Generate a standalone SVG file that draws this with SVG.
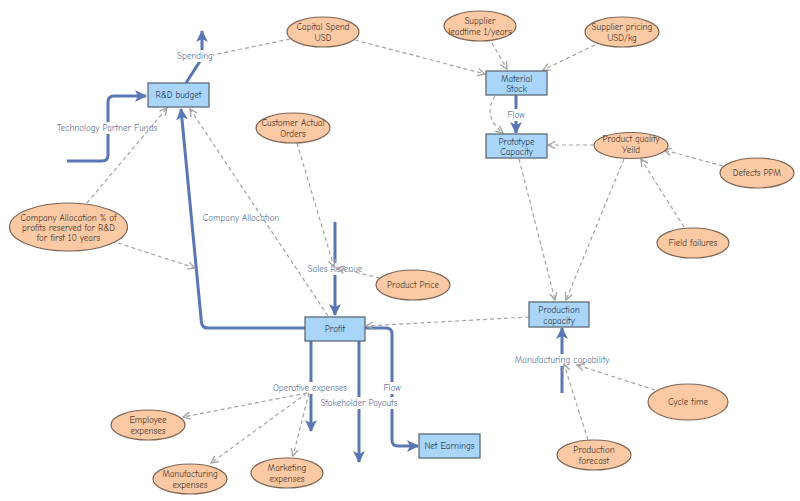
<svg xmlns="http://www.w3.org/2000/svg" width="800" height="501" viewBox="0 0 800 501">
<defs>
<style>
text{font-family:"Comic Sans MS","Comic Neue","Liberation Sans",sans-serif;font-size:9px;text-anchor:middle;dominant-baseline:central}
.box{fill:#a9d5f8;stroke:#5f6b78;stroke-width:1.3}
.ell{fill:#fbc9a4;stroke:#7d6453;stroke-width:1.2}
.bt{fill:#2c3e55}
.et{fill:#4a3a30}
.fl{fill:none;stroke:#5a77b4;stroke-width:3;marker-end:url(#fa)}
.lb{fill:#6677a0}
.bg{fill:#ffffff}
.d{fill:none;stroke:#a3a3a3;stroke-width:1.2;stroke-dasharray:4,3}
.da{marker-end:url(#da)}
</style>
<marker id="fa" viewBox="0 0 12 12" refX="11" refY="6" markerWidth="12" markerHeight="12" markerUnits="userSpaceOnUse" orient="auto">
<path d="M0,0 L12,6 L0,12 L3,6 z" fill="#5a77b4"/>
</marker>
<marker id="da" viewBox="0 0 10 10" refX="9" refY="5" markerWidth="9" markerHeight="9" markerUnits="userSpaceOnUse" orient="auto">
<path d="M1,1 L9,5 L1,9" fill="none" stroke="#a3a3a3" stroke-width="1.5"/>
</marker>
</defs>
<rect width="800" height="501" fill="#ffffff"/>

<g id="connectors">
<path class="fl" d="M186,83 L202,58 L202,31"/>
<path class="fl" d="M67,161 L102,161 Q108,161 108,155 L108,102 Q108,96 114,96 L146,96"/>
<path class="fl" d="M305,328 L208,328 Q202,328 201.4,322 L181,109"/>
<path class="fl" d="M335,222 L335,315"/>
<path class="fl" d="M516,95 L516,133"/>
<path class="fl" d="M311,341 L311,431"/>
<path class="fl" d="M359,341 L359,462"/>
<path class="fl" d="M365,328 L386,328 Q392,328 392,334 L392,440 Q392,446 398,446 L418,446"/>
<path class="fl" d="M562,393 L562,328"/>

<rect class="bg" x="176" y="50" width="37" height="12"/>
<text class="lb" x="195" y="56">Spending</text>
<rect class="bg" x="56" y="122" width="102" height="12"/>
<text class="lb" x="107" y="128">Technology Partner Funds</text>
<text class="lb" x="241" y="218">Company Allocation</text>
<rect class="bg" x="306" y="263" width="58" height="12"/>
<text class="lb" x="335" y="269">Sales Revenue</text>
<rect class="bg" x="505" y="109" width="22" height="12"/>
<text class="lb" x="516" y="115">Flow</text>
<rect class="bg" x="270" y="382" width="81" height="12"/>
<text class="lb" x="310" y="388">Operative expenses</text>
<rect class="bg" x="318" y="397" width="82" height="12"/>
<text class="lb" x="359" y="403">Stakeholder Payouts</text>
<rect class="bg" x="381" y="382" width="22" height="12"/>
<text class="lb" x="392" y="388">Flow</text>
<rect class="bg" x="513" y="354" width="98" height="12"/>
<text class="lb" x="562" y="360">Manufacturing capability</text>

<path class="d" d="M290,39 L213,55"/>
<path class="d da" d="M355,40 L485,74"/>
<path class="d da" d="M492,43 L507,69"/>
<path class="d da" d="M595,45 L543,70"/>
<path class="d da" d="M495,96 Q482,116 503,133"/>
<path class="d da" d="M594,145 L548,145"/>
<path class="d da" d="M723,166 L664,150"/>
<path class="d da" d="M684,227 L641,159"/>
<path class="d da" d="M624,159 L566,300"/>
<path class="d da" d="M519,159 L555,300"/>
<path class="d da" d="M529,317 L366,326"/>
<path class="d da" d="M297,143 L334,267"/>
<path class="d da" d="M380,278 L337,268"/>
<path class="d da" d="M328,316 L190,109"/>
<path class="d da" d="M87,203 L167,108"/>
<path class="d da" d="M118,243 L195,268"/>
<path class="d da" d="M307,393 L183,417"/>
<path class="d da" d="M307,393 L211,463"/>
<path class="d da" d="M309,393 L293,456"/>
<path class="d da" d="M588,440 L564,364"/>
<path class="d da" d="M655,390 L577,365"/>
</g>

<g id="rd-budget"><rect class="box" x="148" y="83" width="61" height="24"/><text class="bt" x="178.5" y="95">R&amp;D budget</text></g>
<g id="material-stock"><rect class="box" x="486" y="71" width="61" height="24"/><text class="bt" x="516.5" y="79">Material</text><text class="bt" x="516.5" y="89">Stock</text></g>
<g id="prototype-capacity"><rect class="box" x="486" y="134" width="61" height="24"/><text class="bt" x="516.5" y="142">Prototype</text><text class="bt" x="516.5" y="152">Capacity</text></g>
<g id="production-capacity"><rect class="box" x="529" y="302" width="60" height="25"/><text class="bt" x="559" y="310">Production</text><text class="bt" x="559" y="320.5">capacity</text></g>
<g id="profit"><rect class="box" x="305" y="317" width="60" height="24"/><text class="bt" x="335" y="329">Profit</text></g>
<g id="net-earnings"><rect class="box" x="419" y="434" width="61" height="24"/><text class="bt" x="449.5" y="446">Net Earnings</text></g>

<g id="capital-spend"><ellipse class="ell" cx="323" cy="32" rx="36" ry="15"/><text class="et" x="323" y="27">Capital Spend</text><text class="et" x="323" y="37.5">USD</text></g>
<g id="supplier-leadtime"><ellipse class="ell" cx="480" cy="26" rx="36" ry="15"/><text class="et" x="480" y="21">Supplier</text><text class="et" x="480" y="31.5">leadtime 1/years</text></g>
<g id="supplier-pricing"><ellipse class="ell" cx="622" cy="32" rx="37" ry="15"/><text class="et" x="622" y="27">Supplier pricing</text><text class="et" x="622" y="37.5">USD/kg</text></g>
<g id="product-quality"><ellipse class="ell" cx="631" cy="145.5" rx="37" ry="13"/><text class="et" x="631" y="139">Product quality</text><text class="et" x="631" y="150">Yeild</text></g>
<g id="defects-ppm"><ellipse class="ell" cx="757" cy="173" rx="37" ry="15"/><text class="et" x="757" y="173">Defects PPM</text></g>
<g id="field-failures"><ellipse class="ell" cx="693" cy="243" rx="36" ry="15"/><text class="et" x="693" y="243">Field failures</text></g>
<g id="customer-orders"><ellipse class="ell" cx="293" cy="128" rx="37" ry="15"/><text class="et" x="293" y="123">Customer Actual</text><text class="et" x="293" y="134">Orders</text></g>
<g id="product-price"><ellipse class="ell" cx="413" cy="285" rx="37" ry="15"/><text class="et" x="413" y="285">Product Price</text></g>
<g id="company-allocation-pct"><ellipse class="ell" cx="68.5" cy="227" rx="59" ry="24"/><text class="et" x="68.5" y="218">Company Allocation % of</text><text class="et" x="68.5" y="228">profits reserved for R&amp;D</text><text class="et" x="68.5" y="238">for first 10 years</text></g>
<g id="employee-expenses"><ellipse class="ell" cx="148" cy="425" rx="37" ry="15"/><text class="et" x="148" y="420">Employee</text><text class="et" x="148" y="431">expenses</text></g>
<g id="manufacturing-expenses"><ellipse class="ell" cx="190" cy="479" rx="37" ry="15"/><text class="et" x="190" y="474">Manufacturing</text><text class="et" x="190" y="485">expenses</text></g>
<g id="marketing-expenses"><ellipse class="ell" cx="287" cy="473" rx="36" ry="15"/><text class="et" x="287" y="468">Marketing</text><text class="et" x="287" y="479">expenses</text></g>
<g id="cycle-time"><ellipse class="ell" cx="688" cy="402" rx="40" ry="18"/><text class="et" x="688" y="402">Cycle time</text></g>
<g id="production-forecast"><ellipse class="ell" cx="594" cy="455" rx="37" ry="15"/><text class="et" x="594" y="450">Production</text><text class="et" x="594" y="461">forecast</text></g>
</svg>
